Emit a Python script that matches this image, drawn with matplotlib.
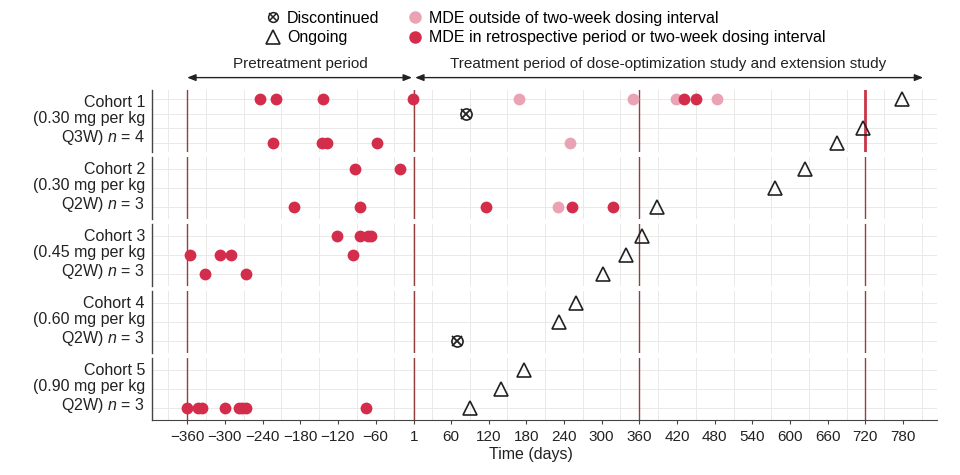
import numpy as np
import matplotlib
matplotlib.use("Agg")
import matplotlib.pyplot as plt
from matplotlib.lines import Line2D
from matplotlib.ticker import MultipleLocator
from matplotlib.legend_handler import HandlerTuple
import matplotlib.transforms as mtransforms

plt.rcParams["font.family"] = ["Liberation Sans", "DejaVu Sans"]
plt.rcParams["mathtext.fontset"] = "custom"
plt.rcParams["mathtext.rm"] = "Liberation Sans"
plt.rcParams["mathtext.it"] = "Liberation Sans:italic"

# cohort labels and number of patients (rows) per cohort
cohort_labels = [
    "Cohort 1\n(0.30 mg per kg\nQ3W) $n$ = 4",
    "Cohort 2\n(0.30 mg per kg\nQ2W) $n$ = 3",
    "Cohort 3\n(0.45 mg per kg\nQ2W) $n$ = 3",
    "Cohort 4\n(0.60 mg per kg\nQ2W) $n$ = 3",
    "Cohort 5\n(0.90 mg per kg\nQ2W) $n$ = 3",
]
n_patients = [4, 3, 3, 3, 3]

# events as (cohort, patient row, day)
mde_in = [
    (1, 1, -244), (1, 1, -219), (1, 1, -144), (1, 1, -1), (1, 1, 431), (1, 1, 451),
    (1, 4, -224), (1, 4, -146), (1, 4, -138), (1, 4, -58),
    (2, 1, -92), (2, 1, -21),
    (2, 3, -190), (2, 3, -84), (2, 3, 116), (2, 3, 252), (2, 3, 318),
    (3, 1, -122), (3, 1, -85), (3, 1, -72), (3, 1, -68),
    (3, 2, -356), (3, 2, -308), (3, 2, -290), (3, 2, -96),
    (3, 3, -332), (3, 3, -267),
    (5, 3, -360), (5, 3, -343), (5, 3, -337), (5, 3, -299), (5, 3, -277),
    (5, 3, -272), (5, 3, -267), (5, 3, -75),
]
mde_out = [
    (1, 1, 168), (1, 1, 350), (1, 1, 418), (1, 1, 483),
    (1, 4, 249),
    (2, 3, 231),
]
ongoing = [
    (1, 1, 778), (1, 3, 716), (1, 4, 674),
    (2, 1, 624), (2, 2, 576), (2, 3, 388),
    (3, 1, 364), (3, 2, 339), (3, 3, 302),
    (4, 1, 259), (4, 2, 232),
    (5, 1, 176), (5, 2, 140), (5, 3, 91),
]
discontinued = [(1, 2, 84), (4, 3, 70)]

x_ticks = [-360, -300, -240, -180, -120, -60, 1, 60, 120, 180, 240, 300,
           360, 420, 480, 540, 600, 660, 720, 780]
ref_days = [-360, 1, 360, 720]

RED = "#d42d4c"
PINK = "#e9a3b4"
LINE = "#943e3e"
GRID = "#ebe8e8"

fig = plt.figure(figsize=(9.6, 4.75), dpi=100)
W, H = 960.0, 475.0
left_px, right_px = 152, 937
top0, ph, gap = 90, 62, 5


def pick(events, c):
    rows = [r for (cc, r, d) in events if cc == c]
    days = [d for (cc, r, d) in events if cc == c]
    return days, rows


axes = []
for i, lab in enumerate(cohort_labels):
    c = i + 1
    top = top0 + i * (ph + gap)
    ax = fig.add_axes([left_px / W, 1 - (top + ph) / H, (right_px - left_px) / W, ph / H])
    axes.append(ax)
    n = n_patients[i]
    ax.set_xlim(-416, 834)
    ax.set_ylim(n + 0.6, 0.4)
    ax.set_yticks(range(1, n + 1))
    ax.set_yticklabels([])
    ax.set_xticks(x_ticks)
    ax.xaxis.set_minor_locator(MultipleLocator(30))
    ax.grid(True, which="minor", axis="x", color=GRID, lw=0.7)
    ax.grid(True, which="major", axis="y", color=GRID, lw=0.7)
    ax.set_axisbelow(True)
    ax.tick_params(axis="y", length=0)
    ax.tick_params(axis="x", which="minor", length=0)
    for s in ["top", "right"]:
        ax.spines[s].set_visible(False)
    ax.spines["left"].set_color("#444444")
    ax.spines["left"].set_linewidth(1.0)
    if i < len(cohort_labels) - 1:
        ax.spines["bottom"].set_visible(False)
        ax.tick_params(axis="x", which="major", length=0, labelbottom=False)
    else:
        ax.spines["bottom"].set_color("#444444")
        ax.tick_params(axis="x", which="major", length=3, color="#444444",
                       labelsize=11, labelcolor="#222222", pad=4)

    for d in ref_days:
        if c == 1 and d == 720:
            ax.axvline(d, color="#c93447", lw=2.0, zorder=1.5)
        else:
            ax.axvline(d, color=LINE, lw=1.0, zorder=1.5)

    xs, ys = pick(mde_out, c)
    ax.plot(xs, ys, "o", ms=8.5, color=PINK, mec="none", zorder=3)
    xs, ys = pick(mde_in, c)
    ax.plot(xs, ys, "o", ms=8.5, color=RED, mec="none", zorder=4)
    xs, ys = pick(ongoing, c)
    ax.plot(xs, ys, "^", ms=10, mfc="none", mec="#222222", mew=1.2, zorder=5)
    xs, ys = pick(discontinued, c)
    ax.plot(xs, ys, "o", ms=8, mfc="none", mec="#222222", mew=1.2, zorder=5)
    ax.plot(xs, ys, "x", ms=7, mec="#222222", mew=1.3, zorder=5)

    ax.text(-0.009, 0.5, lab, transform=ax.transAxes, ha="right", va="center",
            fontsize=11.5, color="#222222", linespacing=1.08)

# period arrows above the first panel
ax0 = axes[0]
trans = mtransforms.blended_transform_factory(ax0.transData, ax0.transAxes)
arrow_kw = dict(arrowstyle="<|-|>,head_length=0.5,head_width=0.2", color="#222222", lw=1.0,
                shrinkA=0, shrinkB=0)
ax0.annotate("", xy=(-360, 1.2), xytext=(-2, 1.2), xycoords=trans, textcoords=trans,
             arrowprops=arrow_kw, annotation_clip=False)
ax0.annotate("", xy=(3, 1.2), xytext=(812, 1.2), xycoords=trans, textcoords=trans,
             arrowprops=arrow_kw, annotation_clip=False)
ax0.text(-180, 1.42, "Pretreatment period", transform=trans, ha="center", va="center",
         fontsize=11, color="#222222")
ax0.text(406, 1.42, "Treatment period of dose-optimization study and extension study",
         transform=trans, ha="center", va="center", fontsize=11, color="#222222")

fig.text(531 / W, 1 - 455 / H, "Time (days)", ha="center", va="center",
         fontsize=11.5, color="#222222")

# legend
disc_handle = (Line2D([], [], ls="none", marker="o", ms=7, mfc="none", mec="#222222", mew=1.1),
               Line2D([], [], ls="none", marker="x", ms=6, mec="#222222", mew=1.1))
handles = [
    disc_handle,
    Line2D([], [], ls="none", marker="^", ms=10, mfc="none", mec="#222222", mew=1.2),
    Line2D([], [], ls="none", marker="o", ms=9, color=PINK, mec="none"),
    Line2D([], [], ls="none", marker="o", ms=9, color=RED, mec="none"),
]
labels = ["Discontinued", "Ongoing", "MDE outside of two-week dosing interval",
          "MDE in retrospective period or two-week dosing interval"]
fig.legend(handles, labels, ncol=2, loc="upper center", bbox_to_anchor=(545 / W, 0.998),
           frameon=False, fontsize=11.5, handlelength=1.0, handletextpad=0.4,
           columnspacing=1.7, labelspacing=0.3, borderaxespad=0.2,
           handler_map={tuple: HandlerTuple(ndivide=1, pad=0)})

fig.savefig("out.png", dpi=100)
